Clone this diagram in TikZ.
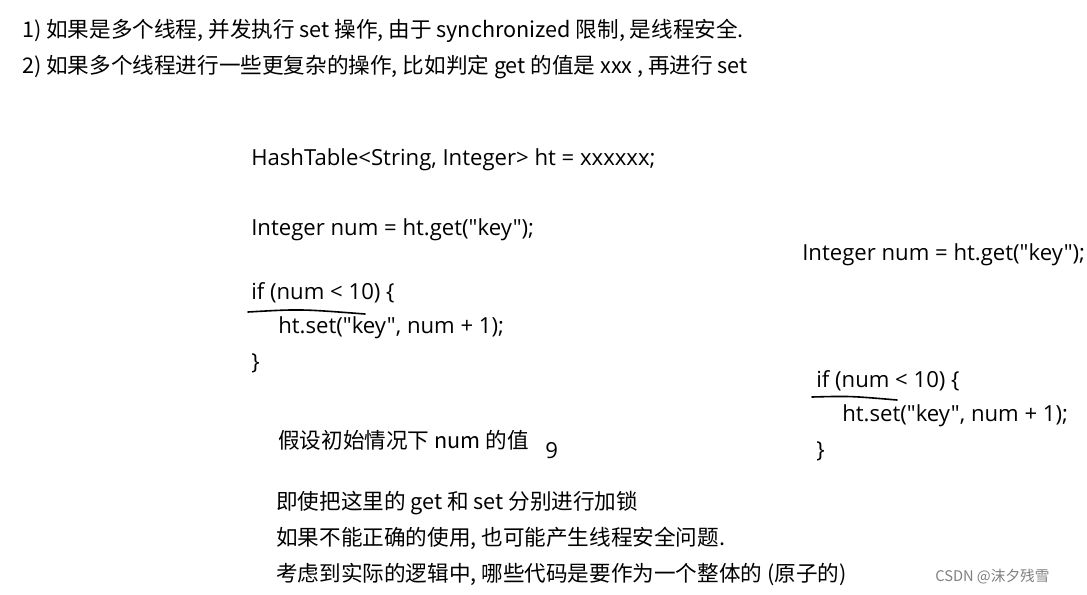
\documentclass[tikz,border=0pt]{standalone}
\usepackage{fontspec}
\setmainfont{Open Sans}[Ligatures=TeXOff]
\newfontfamily\cjk{Noto Sans CJK SC}
\begin{document}
\begin{tikzpicture}[x=0.75pt,y=-0.75pt,
  t/.style={anchor=west,inner sep=0pt,font=\cjk\fontsize{16.2}{18}\selectfont},
  c/.style={anchor=west,inner sep=0pt,font=\fontsize{16.6}{18}\selectfont},
  ul/.style={line width=1.2pt,line cap=round}]
\useasboundingbox[fill=white] (0,0) rectangle (1087,595);
\node[t] (l1) at (22,31) {1) 如果是多个线程, 并发执行 set 操作, 由于 synchronized 限制, 是线程安全.};
\node[t] (l2) at (22,67) {2) 如果多个线程进行一些更复杂的操作, 比如判定 get 的值是 xxx , 再进行 set};
\node[c] (a1) at (251,160) {HashTable<String, Integer> ht = xxxxxx;};
\node[c] (a2) at (251,230) {Integer num = ht.get("key");};
\node[c] (a3) at (251,293) {if (num < 10) \{};
\node[c] (a4) at (278,328) {ht.set("key", num + 1);};
\node[c] (a5) at (251,363) {\}};
\node[t] (n1) at (278,440) {假设初始情况下 num 的值};
\node[c] (n9) at (545,451) {9};
\node[t] (n2) at (276,503) {即使把这里的 get 和 set 分别进行加锁};
\node[t] (n3) at (276,538) {如果不能正确的使用, 也可能产生线程安全问题.};
\node[t] (n4) at (276,574) {考虑到实际的逻辑中, 哪些代码是要作为一个整体的 (原子的)};
\node[c] (b1) at (802,255) {Integer num = ht.get("key");};
\node[c] (b2) at (816,381) {if (num < 10) \{};
\node[c] (b3) at (842,416) {ht.set("key", num + 1);};
\node[c] (b4) at (816,451) {\}};
\node[anchor=west,inner sep=0pt,text=gray,font=\cjk\fontsize{11}{12}\selectfont] (wm) at (935,577) {CSDN @沫夕残雪};
\draw[ul] (248,312) .. controls (300,309) .. (365,314);
\draw[ul] (812,397) .. controls (850,396) .. (897,400);
\end{tikzpicture}
\end{document}
